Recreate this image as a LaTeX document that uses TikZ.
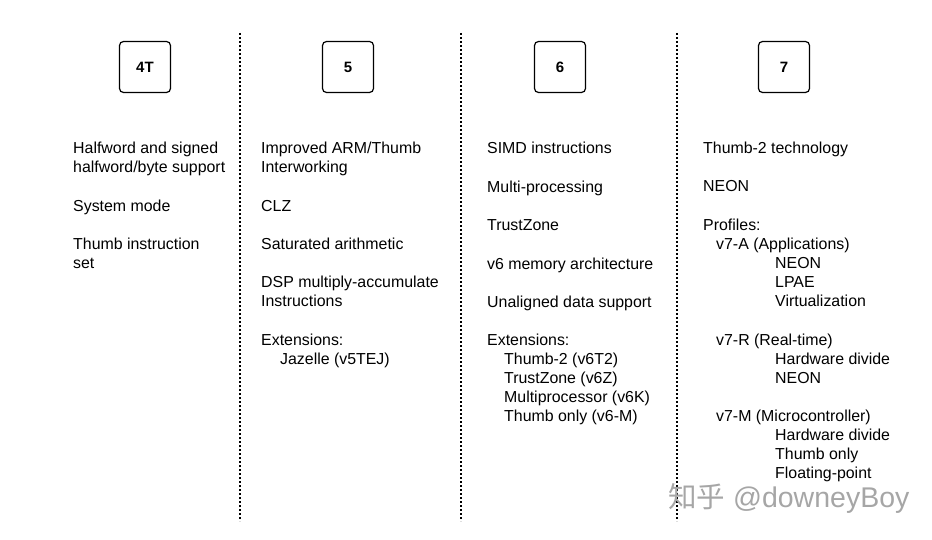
\documentclass[tikz,border=0pt]{standalone}
\usepackage{fontspec}
\setmainfont{Liberation Sans}
\newfontfamily\cjk{Noto Sans CJK SC}
\begin{document}
\begin{tikzpicture}[x=1pt,y=-1pt,
  verbox/.style={draw,line width=1.2pt,rounded corners=4pt,minimum width=51pt,minimum height=51pt,font=\fontsize{15}{15}\selectfont\bfseries},
  sep/.style={line width=1.1pt,dash pattern=on 2pt off 2pt},
  txt/.style={anchor=base west,inner sep=0pt,font=\fontsize{15.9}{15.9}\selectfont}]
\useasboundingbox (0,0) rectangle (932,540);
\node[verbox] (b1) at (145,67) {4T};
\node[verbox] (b2) at (348,67) {5};
\node[verbox] (b3) at (560,67) {6};
\node[verbox] (b4) at (784,67) {7};
\foreach \x/\n in {240/a,461/b,677/c}{
  \coordinate (t\n) at (\x,33); \coordinate (u\n) at (\x,521);
  \draw[sep] (t\n) -- (u\n);}
\foreach \y/\t [count=\i] in {148/Halfword and signed,167/{halfword/byte support},206/System mode,244/Thumb instruction,263/set}
  \node[txt] (p\i) at (73,\y+5.5) {\t};
\foreach \y/\x/\t [count=\i] in {148/261/{Improved ARM/Thumb},167/261/Interworking,206/261/CLZ,244/261/Saturated arithmetic,282/261/DSP multiply-accumulate,301/261/Instructions,340/261/Extensions:,359/280/Jazelle (v5TEJ)}
  \node[txt] (q\i) at (\x,\y+5.5) {\t};
\foreach \y/\x/\t [count=\i] in {148/487/SIMD instructions,187/487/Multi-processing,225/487/TrustZone,264/487/v6 memory architecture,302/487/Unaligned data support,340/487/Extensions:,359/504/Thumb-2 (v6T2),378/504/TrustZone (v6Z),397/504/Multiprocessor (v6K),416/504/Thumb only (v6-M)}
  \node[txt] (r\i) at (\x,\y+5.5) {\t};
\foreach \y/\x/\t [count=\i] in {148/703/Thumb-2 technology,186/703/NEON,225/703/Profiles:,244/716/v7-A (Applications),263/775/NEON,282/775/LPAE,301/775/Virtualization,340/716/v7-R (Real-time),359/775/Hardware divide,378/775/NEON,416/716/v7-M (Microcontroller),435/775/Hardware divide,454/775/Thumb only,473/775/Floating-point}
  \node[txt] (s\i) at (\x,\y+5.5) {\t};
\node[anchor=west,inner sep=0pt,text=black!35,font=\fontsize{28.5}{28.5}\selectfont] (wm) at (668,498) {{\cjk 知乎} @downeyBoy};
\end{tikzpicture}
\end{document}
